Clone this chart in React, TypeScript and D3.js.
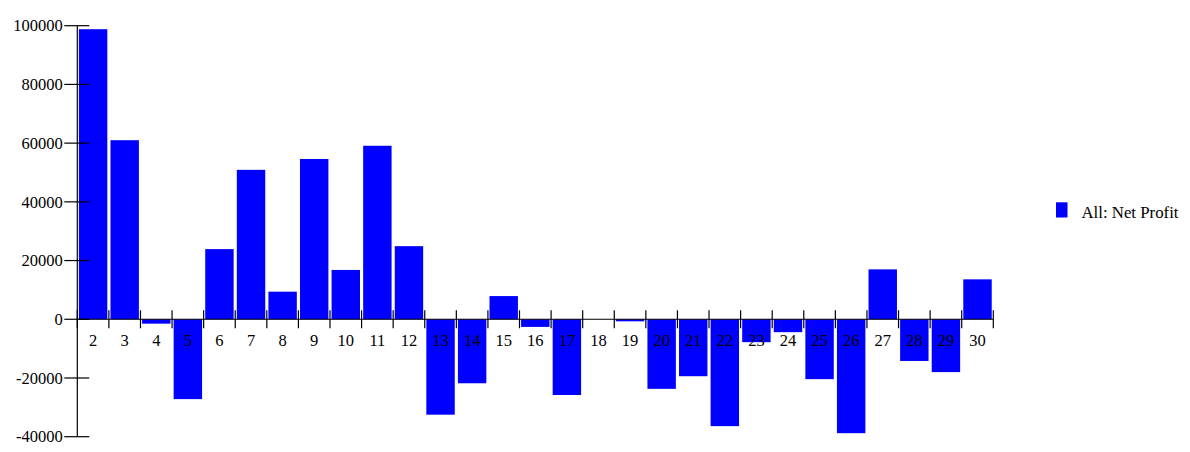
import React from "react";
import * as d3 from "d3";

const categories: string[] = [
  "2","3","4","5","6","7","8","9","10","11","12","13","14","15","16",
  "17","18","19","20","21","22","23","24","25","26","27","28","29","30",
];
const netProfit: number[] = [
  98800, 61000, -1500, -27200, 23900, 50900, 9400, 54600, 16800, 59100,
  24900, -32500, -21800, 7900, -2600, -25800, 0, -700, -23700, -19400,
  -36400, -7800, -4400, -20400, -38800, 17000, -14200, -18000, 13600,
];
const yTicks: number[] = [-40000, -20000, 0, 20000, 40000, 60000, 80000, 100000];
const seriesName = "All: Net Profit";

export default function App() {
  const W = 1190, H = 452;
  const x = d3.scaleBand<string>().domain(categories).range([77.3, 993.3]).paddingInner(0.1).paddingOuter(0.05);
  const y = d3.scaleLinear().domain([-40000, 100000]).range([436.7, 25.7]);
  const step = x.step();
  const x0 = 77.3;
  const y0 = y(0);
  const font = "'Liberation Serif', 'Times New Roman', serif";
  return (
    <svg width={W} height={H} style={{ position: "absolute", left: 0, top: 0 }} fontFamily={font}>
      {categories.map((c, i) => {
        const v = netProfit[i];
        const top = y(Math.max(0, v));
        const h = Math.abs(y(v) - y0);
        return <rect key={c} x={x(c)} y={top} width={x.bandwidth()} height={h} fill="#0000ff" />;
      })}
      {/* x axis */}
      <line x1={x0} x2={x0 + step * categories.length} y1={y0} y2={y0} stroke="#000" strokeWidth={1.2} />
      {d3.range(categories.length + 1).map((i) => (
        <line key={"xt" + i} x1={x0 + i * step} x2={x0 + i * step} y1={y0 - 9} y2={y0 + 9} stroke="#000" strokeWidth={1.2} />
      ))}
      {categories.map((c) => (
        <text key={"xl" + c} x={(x(c) as number) + x.bandwidth() / 2} y={345.8} textAnchor="middle" fontSize={16.5} fill="#000">
          {c}
        </text>
      ))}
      {/* y axis */}
      <line x1={x0} x2={x0} y1={y(100000)} y2={y(-40000)} stroke="#000" strokeWidth={1.2} />
      {yTicks.map((t) => (
        <g key={"yt" + t}>
          <line x1={x0 - 13} x2={x0 + 12} y1={y(t)} y2={y(t)} stroke="#000" strokeWidth={1.2} />
          <text x={62.8} y={y(t) + 5.7} textAnchor="end" fontSize={16.5} fill="#000">{t}</text>
        </g>
      ))}
      {/* legend */}
      <rect x={1056} y={202.3} width={11.5} height={15.2} fill="#0000ff" />
      <text x={1081.5} y={217.6} fontSize={16.8} fill="#000">{seriesName}</text>
    </svg>
  );
}
